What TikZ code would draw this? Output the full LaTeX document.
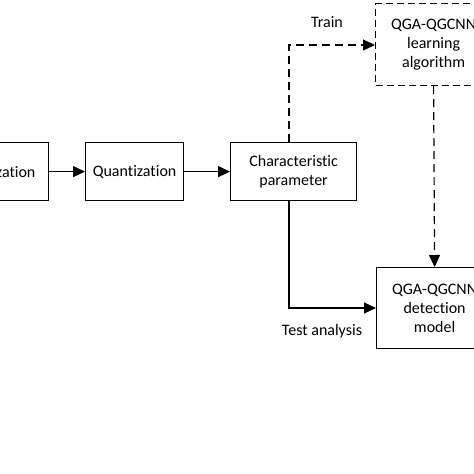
\documentclass[tikz,border=0pt]{standalone}
\usepackage{fontspec}
\setmainfont[Ligatures=NoCommon]{Carlito}
\usetikzlibrary{arrows.meta}
\begin{document}
\begin{tikzpicture}[x=1pt,y=-1pt,
  every node/.style={font=\fontsize{16}{18.8}\selectfont},
  box/.style={draw,line width=1.2pt,inner sep=0pt,align=center},
  dbox/.style={box,dash pattern=on 7pt off 4pt},
  conn/.style={line width=1.2pt,-{Triangle[length=12pt,width=11pt]}},
  dconn/.style={conn,dash pattern=on 8pt off 5pt},
  lbl/.style={inner sep=0pt}]
\useasboundingbox (0,0) rectangle (474,474);
\node[box,minimum height=58pt,text width=110pt,align=right,anchor=north east] (b1) at (49,142) {Normalization\hspace*{13pt}\null};
\node[box,minimum width=98pt,minimum height=58pt,anchor=north west] (b2) at (85,142) {Quantization};
\node[box,minimum width=126pt,minimum height=58pt,anchor=north west] (b3) at (230,142) {Characteristic\\parameter};
\node[dbox,minimum width=116pt,minimum height=82pt,anchor=north west] (b4) at (375,3) {QGA-QGCNN\\learning\\algorithm};
\node[box,minimum width=116pt,minimum height=81pt,anchor=north west] (b5) at (376,267) {QGA-QGCNN\\detection\\model};
\coordinate (c1) at (289,45);
\coordinate (c2) at (289,308);
\draw[conn] (b1.east) -- (b2.west);
\draw[conn] (b2.east) -- (b3.west);
\draw[dconn] (b3.north -| c1) -- (c1) -- (b4.west |- c1);
\draw[dconn] (b4.south) -- (b5.north);
\draw[conn] (b3.south -| c2) -- (c2) -- (b5.west |- c2);
\node[lbl] (train) at (327,22) {Train};
\node[lbl] (test) at (322,331) {Test analysis};
\end{tikzpicture}
\end{document}
